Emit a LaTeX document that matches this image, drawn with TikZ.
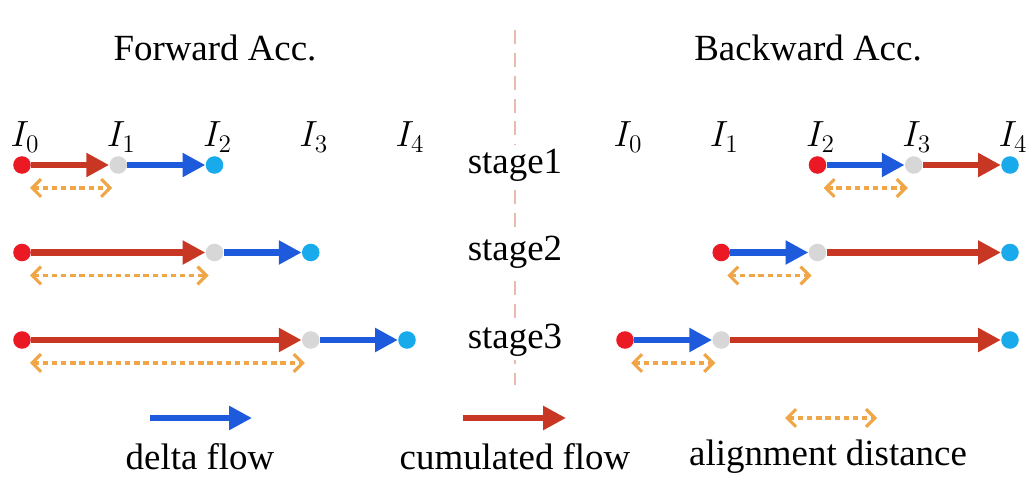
\documentclass[tikz,border=0pt]{standalone}
\usepackage{fontspec}
\setmainfont{Liberation Serif}
\usetikzlibrary{arrows.meta}
\definecolor{dotred}{RGB}{235,25,35}
\definecolor{arrred}{RGB}{200,55,35}
\definecolor{arrblue}{RGB}{30,90,220}
\definecolor{dotcyan}{RGB}{25,170,235}
\definecolor{dotgray}{RGB}{215,215,215}
\definecolor{alorange}{RGB}{240,165,70}
\definecolor{splitpink}{RGB}{235,185,175}

\tikzset{
  dot/.style = {circle, fill=#1, inner sep=0pt, minimum size=10pt},
  flow/.style = {draw=#1, line width=3.6pt, -{Triangle[length=13pt,width=13pt]}},
  align/.style = {draw=alorange, line width=1.8pt, dash pattern=on 3pt off 2.2pt,
                  {Straight Barb[length=5pt,width=10pt]}-{Straight Barb[length=5pt,width=10pt]}},
  lbl/.style = {font=\fontsize{21}{24}\selectfont, inner sep=0pt}
}

\begin{document}
\begin{tikzpicture}[x=0.02cm, y=-0.02cm]
  \useasboundingbox (0,0) rectangle (1031,489);
  % titles and split
  \node[lbl] (fwd) at (215,48) {Forward Acc.};
  \node[lbl] (bwd) at (808,48) {Backward Acc.};
  \draw[splitpink, line width=1.5pt, dash pattern=on 8pt off 5pt] (515,30) -- (515,385);
  % frame labels
  \foreach \i in {0,...,4} {
    \node[lbl] (fI\i) at ({25+96.25*\i},137) {$I_{\i}$};
    \node[lbl] (bI\i) at ({628+96.25*\i},137) {$I_{\i}$};
  }
  % stages
  \foreach \k in {1,2,3} {
    \pgfmathsetmacro{\y}{165+87.5*(\k-1)}
    \pgfmathsetmacro{\xa}{22+96.25*\k}
    \pgfmathsetmacro{\xb}{22+96.25*(\k+1)}
    \pgfmathsetmacro{\xc}{625+96.25*(3-\k)}
    \pgfmathsetmacro{\xd}{625+96.25*(4-\k)}
    \node[lbl, fill=white, inner sep=2pt] (st\k) at (515,\y) {stage\k};
    % forward
    \node[dot=dotred] (f\k-s) at (22,\y) {};
    \node[dot=dotgray] (f\k-m) at (\xa,\y) {};
    \node[dot=dotcyan] (f\k-e) at (\xb,\y) {};
    \draw[flow=arrred] (f\k-s) -- (f\k-m);
    \draw[flow=arrblue] (f\k-m) -- (f\k-e);
    \draw[align] (30,\y+23) -- (\xa-6,\y+23);
    % backward
    \node[dot=dotred] (b\k-s) at (\xc,\y) {};
    \node[dot=dotgray] (b\k-m) at (\xd,\y) {};
    \node[dot=dotcyan] (b\k-e) at (1010,\y) {};
    \draw[flow=arrblue] (b\k-s) -- (b\k-m);
    \draw[flow=arrred] (b\k-m) -- (b\k-e);
    \draw[align] (\xc+6,\y+23) -- (\xd-6,\y+23);
  }
  % legend
  \coordinate (ldA) at (150,418);
  \coordinate (ldB) at (252,418);
  \coordinate (lcA) at (463,418);
  \coordinate (lcB) at (566,418);
  \coordinate (laA) at (785,418);
  \coordinate (laB) at (877,418);
  \draw[flow=arrblue] (ldA) -- (ldB);
  \draw[flow=arrred] (lcA) -- (lcB);
  \draw[align] (laA) -- (laB);
  \node[lbl] (ld) at (200,457) {delta flow};
  \node[lbl] (lc) at (515,457) {cumulated flow};
  \node[lbl] (la) at (828,457) {alignment distance};
\end{tikzpicture}
\end{document}
